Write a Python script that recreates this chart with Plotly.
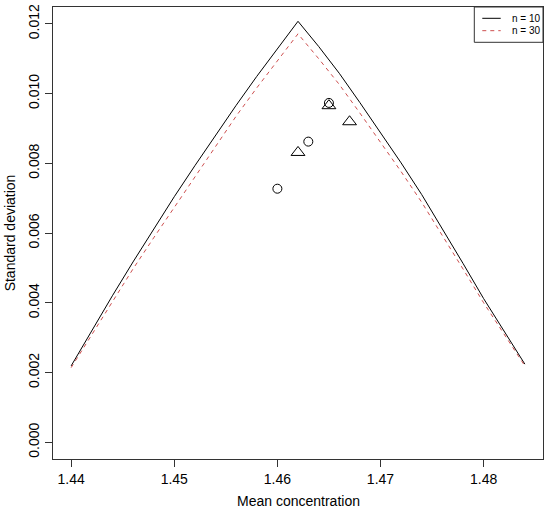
import plotly.graph_objects as go

# mean concentration grid used for the two limit curves
mean_conc = [1.440, 1.442, 1.444, 1.446, 1.448, 1.450, 1.452, 1.454, 1.456, 1.458,
             1.460, 1.462, 1.464, 1.466, 1.468, 1.470, 1.472, 1.474, 1.476, 1.478,
             1.480, 1.482, 1.484]

sd_n10 = [0.00219, 0.00321, 0.00420, 0.00517, 0.00611, 0.00704, 0.00793, 0.00881,
          0.00966, 0.01049, 0.01129, 0.01207, 0.01135, 0.01058, 0.00974, 0.00888,
          0.00801, 0.00710, 0.00613, 0.00513, 0.00412, 0.00318, 0.00224]

sd_n30 = [0.00214, 0.00309, 0.00405, 0.00497, 0.00586, 0.00674, 0.00762, 0.00850,
          0.00935, 0.01016, 0.01094, 0.01171, 0.01100, 0.01026, 0.00944, 0.00860,
          0.00776, 0.00688, 0.00594, 0.00497, 0.00400, 0.00309, 0.00219]

circ_x = [1.460, 1.463, 1.465]
circ_y = [0.00727, 0.00862, 0.00973]

tri_x = [1.462, 1.465, 1.467]
tri_y = [0.00831, 0.00965, 0.00919]

x_ticks = [1.44, 1.45, 1.46, 1.47, 1.48]
y_ticks = [0.000, 0.002, 0.004, 0.006, 0.008, 0.010, 0.012]

legend_labels = ["n = 10", "n = 30"]

FONT = "Liberation Sans, Arial, sans-serif"
RED = "#cd4f4f"
DASH = "4px,4px"

fig = go.Figure()
fig.add_trace(go.Scatter(x=mean_conc, y=sd_n10, mode="lines", name=legend_labels[0],
                         line=dict(color="black", width=1)))
fig.add_trace(go.Scatter(x=mean_conc, y=sd_n30, mode="lines", name=legend_labels[1],
                         line=dict(color=RED, width=1, dash=DASH)))
fig.add_trace(go.Scatter(x=circ_x, y=circ_y, mode="markers",
                         marker=dict(symbol="circle-open", size=9, color="black",
                                     line=dict(width=1, color="black"))))
fig.add_trace(go.Scatter(x=tri_x, y=tri_y, mode="markers",
                         marker=dict(symbol="triangle-up-open", size=12, color="black",
                                     line=dict(width=1, color="black"))))

axis_common = dict(showgrid=False, zeroline=False, showline=True, mirror=True,
                   linecolor="#333333", linewidth=1, ticks="outside", ticklen=7,
                   tickcolor="#333333", tickfont=dict(size=14, color="black"),
                   automargin=False)

fig.update_xaxes(range=[1.43824, 1.48576], tickvals=x_ticks, tickformat=".2f",
                 **axis_common)
fig.update_yaxes(range=[-0.00048, 0.01248], tickvals=y_ticks, tickformat=".3f",
                 tickangle=-90, **axis_common)

# axis titles as annotations, R style placement
fig.add_annotation(text="Mean concentration", xref="paper", yref="paper",
                   x=0.5, y=-0.093, xanchor="center", yanchor="middle",
                   showarrow=False, font=dict(size=14))
fig.add_annotation(text="Standard deviation", xref="paper", yref="paper",
                   x=-0.087, y=0.5, xanchor="center", yanchor="middle",
                   textangle=-90, showarrow=False, font=dict(size=14))

# R-like legend box in the top right corner
fig.add_shape(type="rect", xref="paper", yref="paper", x0=0.8598, x1=1.0,
              y0=0.9219, y1=1.0, line=dict(color="#333333", width=1),
              fillcolor="white")
for yy, col, dash, lab in [(0.975, "black", "solid", legend_labels[0]),
                           (0.9476, RED, DASH, legend_labels[1])]:
    fig.add_shape(type="line", xref="paper", yref="paper", x0=0.8761, x1=0.9137,
                  y0=yy, y1=yy, line=dict(color=col, width=1, dash=dash))
    fig.add_annotation(text=lab, xref="paper", yref="paper", x=0.9327, y=yy,
                       xanchor="left", yanchor="middle", showarrow=False,
                       font=dict(size=10))

fig.update_layout(
    width=550, height=510,
    margin=dict(l=53, r=7, t=7, b=51),
    paper_bgcolor="white", plot_bgcolor="white",
    font=dict(family=FONT, color="black"),
    showlegend=False,
)

# the page body has a default 8px margin; drop it so the figure sits at 0,0
fig.write_html("out.html", config={"displayModeBar": False},
               post_script="document.body.style.margin='0';")
